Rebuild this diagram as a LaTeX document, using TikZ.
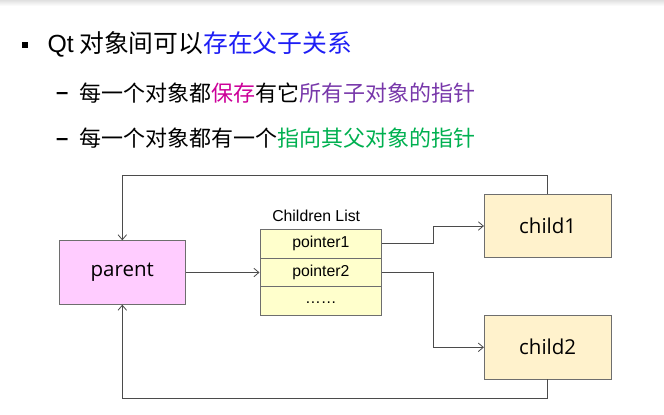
\documentclass[tikz,border=0pt]{standalone}
\usepackage{fontspec}
\setmainfont{Liberation Sans}
\newfontfamily\cjk{Noto Sans CJK SC}
\newfontfamily\lat{Liberation Sans}
\newfontfamily\boxfont{Open Sans}
\usetikzlibrary{arrows.meta}
\definecolor{tblue}{RGB}{30,30,245}
\definecolor{tmag}{RGB}{204,0,153}
\definecolor{tpurple}{RGB}{120,56,170}
\definecolor{tgreen}{RGB}{0,176,80}
\definecolor{parentfill}{RGB}{255,204,255}
\definecolor{listfill}{RGB}{255,255,204}
\definecolor{childfill}{RGB}{255,242,204}
\definecolor{edgegray}{RGB}{110,110,110}
\definecolor{linegray}{RGB}{75,75,75}
\tikzset{
  bigbox/.style={draw=edgegray, line width=0.9pt, minimum width=126.7pt, minimum height=63.4pt, inner sep=0pt, font=\boxfont\fontsize{20.5}{24}\selectfont, text=black},
  rowbox/.style={draw=edgegray, line width=0.9pt, fill=listfill, minimum width=121.7pt, minimum height=28.8pt, inner sep=0pt, font=\lat\fontsize{15.8}{18}\selectfont, text=black},
  conn/.style={draw=linegray, line width=0.8pt, -{Straight Barb[length=5pt,width=8.5pt]}},
  headA/.style={anchor=west, inner sep=0pt, font=\fontsize{24.8}{28}\selectfont},
  headB/.style={anchor=west, inner sep=0pt, font=\fontsize{22}{26}\selectfont}
}
\begin{document}
\begin{tikzpicture}[x=1pt,y=-1pt]
\useasboundingbox (0,0) rectangle (664,415);
\shade[top color=black!12, bottom color=white] (0,0) rectangle (664,6);
% header
\fill[black] (22.2,41.8) rectangle (27.9,47.5);
\node[headA] (l1) at (47.5,44) {\lat Qt\hspace{0.22em}\cjk 对象间可以{\color{tblue}存在父子关系}};
\node[headB] (d2) at (56,96.5) {\lat\bfseries –};
\node[headB] (l2) at (79,93.3) {\cjk 每一个对象都{\color{tmag}保存}有它{\color{tpurple}所有子对象的指针}};
\node[headB] (d3) at (56,141.7) {\lat\bfseries –};
\node[headB] (l3) at (79,138.5) {\cjk 每一个对象都有一个{\color{tgreen}指向其父对象的指针}};
% diagram
\node[bigbox, fill=parentfill] (parent) at (122.3,272.5) {parent};
\node[bigbox, fill=childfill] (child1) at (547.7,226) {child1};
\node[bigbox, fill=childfill] (child2) at (547.7,347.3) {child2};
\node[rowbox] (p1) at (320.8,243.7) {pointer1};
\node[rowbox] (p2) at (320.8,272.5) {pointer2};
\node[rowbox] (p3) at (320.8,301.3) {\raisebox{-0.45ex}{……}};
\node[inner sep=0pt, font=\lat\fontsize{15.8}{18}\selectfont, text=black] (cl) at (316.2,215.5) {Children List};
% connectors
\draw[conn] (parent.east) -- (p2.west);
\draw[conn] (p1.east) -- ++(51,0) |- (child1.west);
\draw[conn] (p2.east) -- ++(51,0) |- (child2.west);
\draw[conn] (child1.north) -- ++(0,-18.3) -| (parent.north);
\draw[conn] (child2.south) -- ++(0,18.7) -| (parent.south);
\end{tikzpicture}
\end{document}
